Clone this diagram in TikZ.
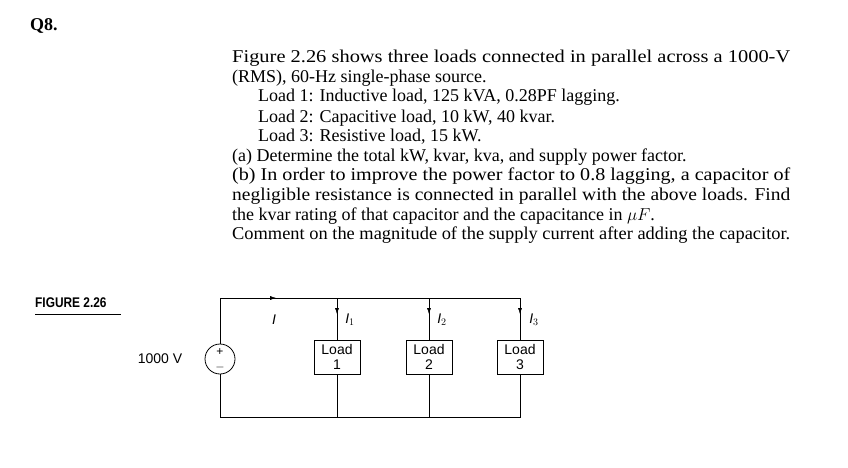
\documentclass[tikz,border=0pt]{standalone}
\usepackage{fontspec}
\setmainfont{Liberation Serif}
\newfontfamily\sans{Liberation Sans}
\usetikzlibrary{arrows.meta}
\newcommand{\fullline}[1]{\resizebox{558pt}{\height}{#1}}
\begin{document}
\begin{tikzpicture}[x=1pt,y=-1pt,
  txt/.style={anchor=base west,inner sep=0pt,font=\fontsize{18}{21}\selectfont},
  box/.style={draw,thick,minimum width=46pt,minimum height=34pt,inner sep=0pt,align=center,font=\sans\fontsize{14}{14.5}\selectfont},
  lab/.style={font=\sans\itshape\fontsize{14}{14}\selectfont,inner sep=0pt},
  w/.style={thick},
  arr/.style={-{Latex[length=6pt,width=4pt]}},
]
\useasboundingbox (0,0) rectangle (848,468);
\node[txt,font=\bfseries\fontsize{18}{20}\selectfont] (q) at (30,31) {Q8.};
\node[txt] (l1) at (232,63) {\fullline{Figure 2.26 shows three loads connected in parallel across a 1000-V}};
\node[txt] (l2) at (232,83) {(RMS), 60-Hz single-phase source.};
\node[txt] (l3) at (258,102) {Load 1: Inductive load, 125 kVA, 0.28PF lagging.};
\node[txt] (l4) at (258,122) {Load 2: Capacitive load, 10 kW, 40 kvar.};
\node[txt] (l5) at (258,141) {Load 3: Resistive load, 15 kW.};
\node[txt] (l6) at (232,161) {(a) Determine the total kW, kvar, kva, and supply power factor.};
\node[txt] (l7) at (232,180) {\fullline{(b) In order to improve the power factor to 0.8 lagging, a capacitor of}};
\node[txt] (l8) at (232,200) {\fullline{negligible resistance is connected in parallel with the above loads. Find}};
\node[txt] (l9) at (232,220) {the kvar rating of that capacitor and the capacitance in $\mu F$.};
\node[txt] (l10) at (232,239) {\fullline{Comment on the magnitude of the supply current after adding the capacitor.}};
\node[anchor=base west,inner sep=0pt,font=\sans\bfseries\fontsize{14}{15}\selectfont] (fig) at (35,307) {\scalebox{0.85}[1]{FIGURE 2.26}};
\draw[line width=1.5pt] (fig.south west)+(0,7) coordinate (u1) -- ++(86,7) coordinate (u2);
% circuit
\coordinate (tl) at (220,298); \coordinate (bl) at (220,417);
\coordinate (t1) at (337,298); \coordinate (t2) at (429,298); \coordinate (t3) at (520,298);
\coordinate (b1) at (337,417); \coordinate (b2) at (429,417); \coordinate (b3) at (520,417);
\node[draw,thick,circle,minimum size=30pt,inner sep=0pt] (src) at (220,359) {};
\node[font=\sans\fontsize{12}{12}\selectfont,inner sep=0pt] (pl) at (220,352) {+};
\node[font=\fontsize{12}{12}\selectfont,inner sep=0pt] (mi) at (220,367) {$-$};
\node[box] (L1) at (337,357) {Load\\1};
\node[box] (L2) at (429,357) {Load\\2};
\node[box] (L3) at (520,357) {Load\\3};
\draw[w] (src.north) -- (tl) -- (t3) -- (L3.north);
\draw[w] (t1) -- (L1.north); \draw[w] (t2) -- (L2.north);
\draw[w] (src.south) -- (bl) -- (b3) -- (L3.south);
\draw[w] (L1.south) -- (b1); \draw[w] (L2.south) -- (b2);
\draw[arr] (264,298) -- (276,298);
\draw[arr] (t1) -- ++(0,16); \draw[arr] (t2) -- ++(0,16); \draw[arr] (t3) -- ++(0,16);
\node[lab] at (274,320) {I};
\node[lab] at (350,320) {I$_1$};
\node[lab] at (442,320) {I$_2$};
\node[lab] at (534,320) {I$_3$};
\node[font=\sans\fontsize{14}{14}\selectfont] at (160,359) {1000 V};
\end{tikzpicture}
\end{document}
